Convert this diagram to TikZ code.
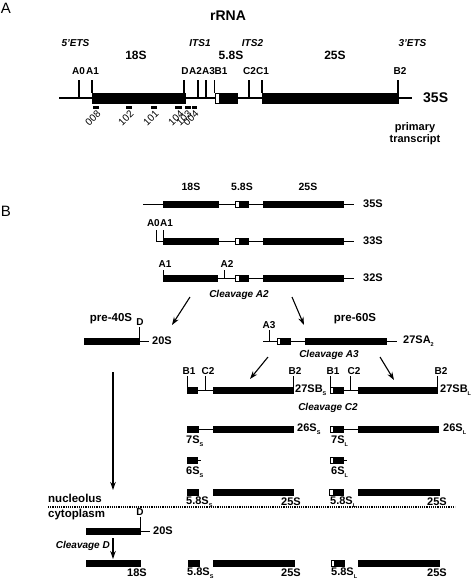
\documentclass[tikz,border=0pt]{standalone}
\usepackage{fontspec}
\setmainfont{Liberation Sans}
\usetikzlibrary{arrows.meta}
\newcommand\mysub[1]{\raisebox{-0.45ex}{\fontsize{5.5}{6}\selectfont #1}}
\begin{document}
\begin{tikzpicture}[x=1pt,y=-1pt,
  every node/.style={inner sep=0pt},
  panel/.style={font=\fontsize{15}{17}\selectfont},
  big/.style={font=\bfseries\fontsize{14}{16}\selectfont},
  regA/.style={font=\bfseries\fontsize{12}{14}\selectfont},
  ets/.style={font=\bfseries\itshape\fontsize{10}{12}\selectfont},
  site/.style={font=\bfseries\fontsize{10}{12}\selectfont},
  siteB/.style={font=\bfseries\fontsize{10}{11}\selectfont},
  regB/.style={font=\bfseries\fontsize{10.5}{12}\selectfont},
  rowlab/.style={font=\bfseries\fontsize{11}{12}\selectfont},
  sublab/.style={font=\bfseries\fontsize{11}{12}\selectfont},
  cleav/.style={font=\bfseries\itshape\fontsize{10}{12}\selectfont},
  pre/.style={font=\bfseries\fontsize{11.5}{13}\selectfont},
  probe/.style={font=\fontsize{10}{11}\selectfont, rotate=45, anchor=east},
  lnA/.style={line width=1.4pt},
  tkA/.style={line width=1.2pt},
  ln/.style={line width=1pt},
  tk/.style={line width=1pt},
  blk/.style={fill=black, draw=black, line width=0.6pt},
  wht/.style={fill=white, draw=black, line width=0.6pt},
  arr/.style={-{Stealth[length=8pt,width=5.5pt]}, line width=1.1pt}]
\useasboundingbox (0,0) rectangle (474,579);

% ================= Panel A =================
\node[panel] (pA) at (6,8) {A};
\node[big] (rrna) at (228,16) {rRNA};
\node[ets] (ets5) at (75.5,43) {5'ETS};
\node[ets] (its1) at (200,43) {ITS1};
\node[ets] (its2) at (252.5,43) {ITS2};
\node[ets] (ets3) at (412.5,43) {3'ETS};
\node[regA] (r18) at (136,55) {18S};
\node[regA] (r58) at (231,55) {5.8S};
\node[regA] (r25) at (335,55) {25S};

\draw[lnA] (59,98) -- (412,98);
\draw[blk] (92,93) rectangle (185,103);
\draw[wht] (215,93) rectangle (219,103);
\draw[blk] (219,93) rectangle (237,103);
\draw[blk] (262,93) rectangle (398,103);

\draw[tkA] (79,80) -- (79,98);
\draw[tkA] (92,80) -- (92,93);
\draw[tkA] (184,80) -- (184,93);
\draw[tkA] (198,80) -- (198,98);
\draw[tkA] (206,80) -- (206,98);
\draw[tkA] (214.5,80) -- (214.5,93);
\draw[tkA] (249,80) -- (249,98);
\draw[tkA] (262,80) -- (262,93);
\draw[tkA] (398,80) -- (398,93);

\node[site] (sA0) at (78.5,71) {A0};
\node[site] (sA1) at (92.5,71) {A1};
\node[site] (sD) at (185,71) {D};
\node[site] (sA2) at (195.5,71) {A2};
\node[site] (sA3) at (208.5,71) {A3};
\node[site] (sB1) at (221,71) {B1};
\node[site] (sC2) at (249.5,71) {C2};
\node[site] (sC1) at (262.5,71) {C1};
\node[site] (sB2) at (400,71) {B2};

\node[big, anchor=west] (l35A) at (423,98) {35S};
\node[font=\bfseries\fontsize{11}{12}\selectfont, align=center] (prim) at (415,134) {primary\\transcript};

% probes
\fill (93,105.5) rectangle (99,108.5);
\fill (126,105.5) rectangle (132,108.5);
\fill (151,105.5) rectangle (157,108.5);
\fill (175,105.5) rectangle (182,108.5);
\fill (185,105.5) rectangle (191,108.5);
\fill (192,105.5) rectangle (197,108.5);
\node[probe] (p008) at (99,112) {008};
\node[probe] (p102) at (132,112) {102};
\node[probe] (p101) at (157,112) {101};
\node[probe] (p104) at (182,112) {104};
\node[probe] (p103) at (190,112) {103};
\node[probe] (p004) at (197,112) {004};

% ================= Panel B =================
\node[panel] (pB) at (6,211) {B};
\node[regB] (b18) at (191,187) {18S};
\node[regB] (b58) at (242,187) {5.8S};
\node[regB] (b25) at (308,187) {25S};

% 35S
\draw[ln] (143,204) -- (354,204);
\draw[blk] (163,201) rectangle (218,207);
\draw[wht] (235,201) rectangle (239,207);
\draw[blk] (239,201) rectangle (248,207);
\draw[blk] (263,201) rectangle (343,207);
\node[rowlab, anchor=west] (l35) at (363,204) {35S};

% 33S
\draw[ln] (156,230) -- (156,241) -- (354,241);
\draw[tk] (163,230) -- (163,238);
\draw[blk] (163,238) rectangle (218,244);
\draw[wht] (235,238) rectangle (239,244);
\draw[blk] (239,238) rectangle (248,244);
\draw[blk] (263,238) rectangle (343,244);
\node[siteB, anchor=east] (s33a0) at (160,223) {A0};
\node[siteB, anchor=west] (s33a1) at (160,223) {A1};
\node[rowlab, anchor=west] (l33) at (363,241) {33S};

% 32S
\draw[ln] (163,278) -- (354,278);
\draw[tk] (163,270) -- (163,275);
\draw[tk] (224,270) -- (224,278);
\draw[blk] (163,275) rectangle (217,281);
\draw[wht] (235,275) rectangle (239,281);
\draw[blk] (239,275) rectangle (248,281);
\draw[blk] (263,275) rectangle (343,281);
\node[siteB] (s32a1) at (165,264) {A1};
\node[siteB] (s32a2) at (227,264) {A2};
\node[rowlab, anchor=west] (l32) at (363,278) {32S};

\node[cleav] (cA2) at (239,295) {Cleavage A2};
\coordinate (a2ls) at (190,297); \coordinate (a2le) at (172,325);
\coordinate (a2rs) at (292,297); \coordinate (a2re) at (304,325);
\draw[arr] (a2ls) -- (a2le);
\draw[arr] (a2rs) -- (a2re);

% pre-40S / 20S
\node[pre] (p40) at (111,319) {pre-40S};
\node[siteB] (sDn) at (140,322) {D};
\draw[tk] (139,327) -- (139,338);
\draw[blk] (84,338) rectangle (139,344);
\draw[ln] (139,341) -- (149,341);
\node[rowlab, anchor=west] (l20n) at (152,341) {20S};

% pre-60S / 27SA2
\node[pre] (p60) at (355,319) {pre-60S};
\draw[ln] (263,341) -- (397,341);
\draw[tk] (269,330) -- (269,341);
\node[siteB] (sA3b) at (269,325) {A3};
\draw[wht] (277,338) rectangle (280,344);
\draw[blk] (280,338) rectangle (290,344);
\draw[blk] (305,338) rectangle (386,344);
\node[rowlab, anchor=west] (l27a2) at (403,341) {27SA\mysub{2}};

\node[cleav] (cA3) at (329,355) {Cleavage A3};
\coordinate (a3ls) at (268,357); \coordinate (a3le) at (250,379);
\coordinate (a3rs) at (380,357); \coordinate (a3re) at (394,380);
\draw[arr] (a3ls) -- (a3le);
\draw[arr] (a3rs) -- (a3re);

% 27SB_S
\draw[ln] (197,390) -- (213,390);
\draw[tk] (187,376) -- (187,387);
\draw[tk] (205,376) -- (205,390);
\draw[tk] (293,376) -- (293,387);
\draw[blk] (187,387) rectangle (197,393);
\draw[blk] (213,387) rectangle (293,393);
\node[siteB] (sbs1) at (189,371) {B1};
\node[siteB] (sbs2) at (208,371) {C2};
\node[siteB] (sbs3) at (295,371) {B2};
\node[rowlab, anchor=west] (l27bs) at (295,390) {27SB\mysub{S}};

% 27SB_L
\draw[ln] (343,390) -- (358,390);
\draw[tk] (330,376) -- (330,387);
\draw[tk] (350,376) -- (350,390);
\draw[tk] (437,376) -- (437,387);
\draw[wht] (330,387) rectangle (333,393);
\draw[blk] (333,387) rectangle (343,393);
\draw[blk] (358,387) rectangle (437,393);
\node[siteB] (sbl1) at (333,371) {B1};
\node[siteB] (sbl2) at (354,371) {C2};
\node[siteB] (sbl3) at (441,371) {B2};
\node[rowlab, anchor=west] (l27bl) at (440,390) {27SB\mysub{L}};

\node[cleav] (cC2) at (328,408) {Cleavage C2};

% 26S / 7S
\draw[ln] (198,429) -- (213,429);
\draw[blk] (187,426) rectangle (198,432);
\draw[blk] (213,426) rectangle (293,432);
\node[rowlab, anchor=west] (l26s) at (297,429) {26S\mysub{S}};
\node[sublab, anchor=west] (l7s) at (186,441) {7S\mysub{S}};
\draw[ln] (343,429) -- (358,429);
\draw[wht] (330,426) rectangle (333,432);
\draw[blk] (333,426) rectangle (343,432);
\draw[blk] (358,426) rectangle (438,432);
\node[rowlab, anchor=west] (l26l) at (443,429) {26S\mysub{L}};
\node[sublab, anchor=west] (l7l) at (331,441) {7S\mysub{L}};

% 6S
\draw[ln] (197,460) -- (201,460);
\draw[blk] (187,457) rectangle (197,463);
\node[sublab, anchor=west] (l6s) at (186,472) {6S\mysub{S}};
\draw[ln] (343,460) -- (347,460);
\draw[wht] (330,457) rectangle (333,463);
\draw[blk] (333,457) rectangle (343,463);
\node[sublab, anchor=west] (l6l) at (331,472) {6S\mysub{L}};

% 5.8S / 25S nucleolus
\draw[blk] (187,489) rectangle (198,495);
\draw[blk] (213,489) rectangle (293,495);
\node[sublab, anchor=west] (n58s) at (186,502) {5.8S\mysub{S}};
\node[sublab, anchor=east] (n25s) at (301,502) {25S};
\draw[wht] (329,489) rectangle (333,495);
\draw[blk] (333,489) rectangle (343,495);
\draw[blk] (358,489) rectangle (439,495);
\node[sublab, anchor=west] (n58l) at (330,502) {5.8S\mysub{L}};
\node[sublab, anchor=east] (n25l) at (447,502) {25S};

% nucleolus / cytoplasm boundary
\coordinate (dl0) at (48,507); \coordinate (dl1) at (455,507);
\draw[line width=1.3pt, dash pattern=on 1.1pt off 1.1pt] (dl0) -- (dl1);
\node[pre, anchor=west] (nuc) at (48,498) {nucleolus};
\node[pre, anchor=west] (cyt) at (48,515) {cytoplasm};

% long arrow
\coordinate (vs) at (113,372); \coordinate (ve) at (113,490);
\draw[arr] (vs) -- (ve);

% 20S cytoplasm
\node[siteB] (sDc) at (140,512) {D};
\draw[tk] (140,517) -- (140,528);
\draw[blk] (86,528) rectangle (140,534);
\draw[ln] (140,531) -- (150,531);
\node[rowlab, anchor=west] (l20c) at (153,531) {20S};

\node[cleav, anchor=east] (cD) at (110,546) {Cleavage D};
\coordinate (ds) at (113,538); \coordinate (de) at (113,559);
\draw[arr] (ds) -- (de);

% bottom row
\draw[blk] (86,560) rectangle (140,566);
\node[sublab, anchor=east] (f18) at (147,573) {18S};
\draw[blk] (188,560) rectangle (199,566);
\draw[blk] (213,560) rectangle (294,566);
\node[sublab, anchor=west] (f58s) at (187,573) {5.8S\mysub{S}};
\node[sublab, anchor=east] (f25s) at (301,573) {25S};
\draw[wht] (331,560) rectangle (334,566);
\draw[blk] (334,560) rectangle (344,566);
\draw[blk] (358,560) rectangle (439,566);
\node[sublab, anchor=west] (f58l) at (331,573) {5.8S\mysub{L}};
\node[sublab, anchor=east] (f25l) at (447,573) {25S};
\end{tikzpicture}
\end{document}
